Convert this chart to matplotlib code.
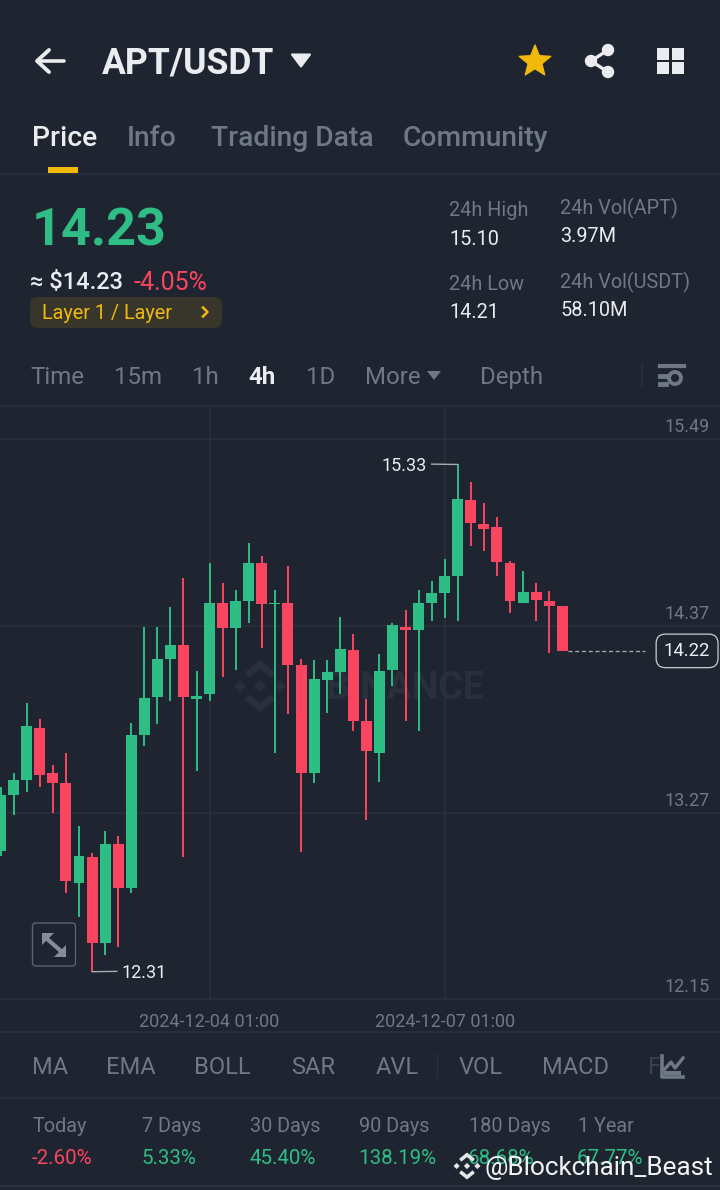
#!/usr/bin/env python
# -*- coding: utf-8 -*-
"""Binance style APT/USDT 4h candlestick screen."""

import numpy as np
import matplotlib
matplotlib.use("Agg")
import matplotlib.pyplot as plt
from matplotlib.patches import FancyBboxPatch, Polygon, Circle, Rectangle
from matplotlib.transforms import ScaledTranslation

plt.rcParams['font.family'] = ['Roboto', 'DejaVu Sans']

# candles, 4h, values
opens = [13.031, 13.360, 13.451, 13.761, 13.491, 13.432, 12.840, 12.991, 12.479, 13.070, 12.809,
         13.721, 13.943, 14.174, 14.253, 13.936, 13.963, 14.503, 14.354, 14.515, 14.745, 14.497,
         14.503, 14.134, 13.493, 14.045, 14.096, 14.223, 13.803, 13.614, 14.104, 14.364, 14.344,
         14.505, 14.567, 14.668, 15.116, 14.977, 14.956, 14.745, 14.505, 14.573, 14.515, 14.485]
highs = [13.412, 13.491, 13.912, 13.813, 13.543, 13.610, 13.180, 13.019, 13.150, 13.120, 13.793,
         14.364, 14.364, 14.483, 14.656, 14.102, 14.745, 14.626, 14.582, 14.864, 14.787, 14.582,
         14.725, 14.172, 14.164, 14.164, 14.424, 14.323, 13.932, 14.202, 14.384, 14.463, 14.584,
         14.634, 14.765, 15.330, 15.227, 15.098, 15.015, 14.755, 14.696, 14.624, 14.575, 14.485]
lows = [12.999, 13.241, 13.382, 13.412, 13.253, 12.781, 12.638, 12.310, 12.410, 12.459, 12.781,
        13.654, 13.783, 13.924, 12.991, 13.503, 13.924, 14.066, 14.106, 14.388, 14.235, 13.614,
        13.842, 13.021, 13.432, 13.852, 13.964, 13.743, 13.211, 13.442, 14.013, 13.803, 13.743,
        14.396, 14.416, 14.396, 14.844, 14.817, 14.666, 14.446, 14.505, 14.396, 14.206, 14.220]
closes = [13.362, 13.451, 13.773, 13.481, 13.432, 12.850, 12.999, 12.479, 13.070, 12.809, 13.721,
          13.942, 14.172, 14.253, 13.943, 13.951, 14.503, 14.354, 14.515, 14.745, 14.497, 14.507,
          14.134, 13.493, 14.053, 14.092, 14.233, 13.803, 13.622, 14.102, 14.374, 14.344, 14.505,
          14.565, 14.666, 15.126, 14.979, 14.948, 14.747, 14.515, 14.573, 14.525, 14.485, 14.220]

# gridlines are evenly spaced, the printed labels are rounded
price_ticks = [15.480, 14.370, 13.257, 12.147]
price_labels = ["15.49", "14.37", "13.27", "12.15"]
date_ticks = [16, 34]
date_labels = ["2024-12-04 01:00", "2024-12-07 01:00"]
last_price = 14.22

tabs = ["Price", "Info", "Trading Data", "Community"]
intervals = ["Time", "15m", "1h", "4h", "1D", "More", "Depth"]
indicators = ["MA", "EMA", "BOLL", "SAR", "AVL", "VOL", "MACD"]
periods = ["Today", "7 Days", "30 Days", "90 Days", "180 Days", "1 Year"]
period_changes = ["-2.60%", "5.33%", "45.40%", "138.19%", "68.68%", "67.77%"]

BG = "#1E2530"
GRID = "#2A313C"
GREEN = "#2EBD85"
RED = "#F9455F"
GREY = "#6F7885"
WHITE = "#EAECEF"
YELLOW = "#F0B90B"
FAINT = "#2A303B"

fig = plt.figure(figsize=(7.2, 11.9), dpi=100, facecolor=BG)

# chart area, price maps to screen by ylim
ax = fig.add_axes([0, 1 - 1032 / 1190, 1, 626 / 1190], facecolor=BG)
ax.set_xlim(-0.05, 55.08)
ax.set_ylim(11.951, 15.678)
for side in ["left", "right"]:
    ax.spines[side].set_visible(False)
for side in ["top", "bottom"]:
    ax.spines[side].set_color(GRID)
    ax.spines[side].set_linewidth(1.2)

ax.set_yticks(price_ticks)
ax.set_yticklabels(price_labels)
ax.yaxis.tick_right()
ax.tick_params(axis='y', length=0, pad=-40, labelsize=13, labelcolor=GREY)
ax.grid(axis='y', color=GRID, linewidth=1.1)
ax.set_axisbelow(True)
lift = ScaledTranslation(0, 3 / 100, fig.dpi_scale_trans)
for lab in ax.get_yticklabels():
    lab.set_verticalalignment('bottom')
    lab.set_transform(lab.get_transform() + lift)

ax.set_xticks(date_ticks)
ax.set_xticklabels(date_labels)
ax.tick_params(axis='x', length=0, pad=-14, labelsize=13, labelcolor=GREY)
ax.vlines(date_ticks, price_ticks[-1], ax.get_ylim()[1], color=GRID, linewidth=1.1, zorder=1)

xs = np.arange(len(opens))
o = np.array(opens)
h = np.array(highs)
l = np.array(lows)
c = np.array(closes)
colors = [GREEN if b >= a else RED for a, b in zip(o, c)]
ax.vlines(xs, l, h, color=colors, linewidth=1.4, zorder=3)
ax.bar(xs, np.abs(c - o), bottom=np.minimum(o, c), width=0.84, color=colors, zorder=4)

# high / low callouts
hi = int(np.argmax(h))
lo = int(np.argmin(l))
ax.annotate(f"{h[hi]:.2f}", (hi, h[hi]), xytext=(-22, -1), textcoords='offset points',
            ha='right', va='center', color=WHITE, fontsize=13, zorder=5,
            arrowprops=dict(arrowstyle='-', color="#A8ADB5", lw=1, shrinkA=1, shrinkB=0,
                            relpos=(1, 0.6)))
ax.annotate(f"{l[lo]:.2f}", (lo, l[lo]), xytext=(21, -1), textcoords='offset points',
            ha='left', va='center', color=WHITE, fontsize=13, zorder=5,
            arrowprops=dict(arrowstyle='-', color="#A8ADB5", lw=1, shrinkA=1, shrinkB=0,
                            relpos=(0, 0.6)))

# last price line and badge
ax.hlines(last_price, xs[-1] + 0.45, 49.3, color="#A8ADB5", linewidth=0.9,
          linestyle=(0, (3.2, 2.2)), zorder=3)
ax.annotate(f"{last_price:.2f}", (52.56, last_price), ha='center', va='center', color=WHITE,
            fontsize=13.3, zorder=6,
            bbox=dict(boxstyle="round,pad=0.42,rounding_size=0.5", fc=BG, ec="#C9CDD3", lw=0.9))

# faint watermark behind the candles
ax.text(0.5625, 0.549, "BINANCE", transform=ax.transAxes, color=FAINT, fontsize=27,
        fontweight='bold', va='center', ha='center', zorder=2)
wm = ax.inset_axes([0, 0, 1, 1], facecolor='none', zorder=2)
wm.set_xlim(0, 720)
wm.set_ylim(1032, 406)
wm.axis('off')

# everything around the chart, in screen pixels
ui = fig.add_axes([0, 0, 1, 1], facecolor='none', zorder=5)
ui.set_xlim(0, 720)
ui.set_ylim(1190, 0)
ui.axis('off')


def label(x, y, s, size, color=GREY, weight='normal', **kw):
    ui.text(x, y + 1.5, s, fontsize=size, color=color, fontweight=weight, va='center', ha='left', **kw)


def binance_logo(target, cx, cy, r, color, zorder=6):
    # centre and side diamonds
    for dx, dy in [(0, 0), (-r * 0.8, 0), (r * 0.8, 0)]:
        s = r * 0.24
        target.add_patch(Polygon([(cx + dx - s, cy + dy), (cx + dx, cy + dy - s),
                                  (cx + dx + s, cy + dy), (cx + dx, cy + dy + s)],
                                 color=color, lw=0, zorder=zorder))
    # chevrons top and bottom
    for sgn in [-1, 1]:
        pts = np.array([(-0.52, 0.44), (0, 0.86), (0.52, 0.44)]) * r
        target.plot(cx + pts[:, 0], cy + sgn * pts[:, 1], color=color, lw=r * 0.2,
                    solid_joinstyle='miter', solid_capstyle='butt', zorder=zorder)


binance_logo(wm, 260, 686, 25, FAINT, zorder=2)

# header
ui.plot([38, 64], [61, 61], color=WHITE, lw=2.6, solid_capstyle='round')
ui.plot([49, 37, 49], [50, 61, 72], color=WHITE, lw=2.8, solid_capstyle='round')
label(102, 62, "APT/USDT", 25.6, WHITE, 'bold')
ui.add_patch(Polygon([(292, 54.5), (310, 54.5), (301, 66.5)], color=WHITE, lw=1.5, joinstyle='round'))

angles = np.deg2rad(np.arange(0, 360, 36) - 90)
radii = np.where(np.arange(10) % 2 == 0, 16.5, 7.2)
ui.add_patch(Polygon(np.c_[535 + radii * np.cos(angles), 61.5 + radii * np.sin(angles)],
                     color=YELLOW, lw=1, joinstyle='round'))

ui.plot([608, 591, 608], [50, 61, 72], color=WHITE, lw=2.4)
for px, py, pr in [(608, 50, 6.2), (591, 61, 6.2), (608, 72, 6.2)]:
    ui.add_patch(Circle((px, py), pr, color=WHITE, lw=0))

for gx, gy in [(657, 48), (672, 48), (657, 62), (672, 62)]:
    ui.add_patch(Rectangle((gx, gy), 11.5, 11.5, color=WHITE, lw=0))

# tabs
for name, x, col in zip(tabs, [32, 127, 211, 403], [WHITE, GREY, GREY, GREY]):
    label(x, 137, name, 20.3, col, 'medium')
ui.add_patch(Rectangle((48, 167), 30, 5.5, color=YELLOW, lw=0))
ui.plot([0, 720], [173.5, 173.5], color=GRID, lw=1.2)

# price summary
label(32, 230, "14.23", 37.5, GREEN, 'bold')
label(30, 281, "≈ $14.23", 17, WHITE, 'medium')
label(133, 281, "-4.05%", 18, RED)
ui.add_patch(FancyBboxPatch((30, 297), 192, 31, boxstyle="round,pad=0,rounding_size=8",
                            fc="#38352B", ec='none'))
label(42, 312, "Layer 1 / Layer", 14.3, YELLOW)
ui.plot([203, 207.5, 203], [307.5, 312, 316.5], color=YELLOW, lw=1.8)

label(449, 209, "24h High", 14.3)
label(449, 238, "15.10", 14.3, WHITE)
label(449, 283, "24h Low", 14.3)
label(449, 311, "14.21", 14.3, WHITE)
label(560, 207, "24h Vol(APT)", 14.3)
label(560, 235, "3.97M", 14.3, WHITE)
label(560, 281, "24h Vol(USDT)", 14.3)
label(560, 309, "58.10M", 14.3, WHITE)

# interval row
for name, x in zip(intervals, [30, 114, 192, 248, 306, 365, 480]):
    if name == "4h":
        label(x, 376, name, 17.3, WHITE, 'bold')
    else:
        label(x, 376, name, 17.3)
ui.add_patch(Polygon([(427, 371), (441, 371), (434, 380)], color=GREY, lw=0))
ui.plot([642, 642], [364, 386], color=GRID, lw=1.2)
ui.plot([660, 684], [366, 366], color=GREY, lw=3)
ui.plot([660, 666], [376, 376], color=GREY, lw=3.5)
ui.plot([660, 666], [384, 384], color=GREY, lw=3.5)
ui.add_patch(Circle((675, 378), 6, fc='none', ec=GREY, lw=2.8))

# expand button
ui.add_patch(FancyBboxPatch((32.5, 923), 43, 43, boxstyle="round,pad=0,rounding_size=3",
                            fc=BG, ec="#5A6270", lw=1))
ui.plot([46, 62], [938, 952], color="#858C98", lw=3)
ui.add_patch(Polygon([(42, 933), (54, 933), (42, 945)], color="#858C98", lw=0))
ui.add_patch(Polygon([(66, 957), (54, 957), (66, 945)], color="#858C98", lw=0))

# indicator row
for name, x in zip(indicators, [32, 106, 194, 291, 376, 459, 542]):
    label(x, 1066, name, 17)
label(648, 1066, "F", 17, "#3A414C")
ui.plot([437, 437], [1053, 1078], color=GRID, lw=1)
ui.plot([662, 662, 683], [1056, 1077, 1077], color=GREY, lw=2.6)
ui.plot([664, 671, 675, 683], [1070, 1062, 1068, 1058], color=GREY, lw=2.4)
ui.add_patch(Rectangle((664, 1071), 17, 4, color=GREY, lw=0))

ui.plot([0, 720], [1098, 1098], color=GRID, lw=1.2)
ui.plot([0, 720], [1186, 1186], color=GRID, lw=1.5)

# period performance
for name, val, x in zip(periods, period_changes, [33, 142, 250, 359, 469, 578]):
    label(x, 1125, name, 14.3)
    label(x - 1, 1157, val, 14.8, RED if val.startswith("-") else GREEN)

# reposter tag
binance_logo(ui, 467, 1166, 13, "#E6E6E6", zorder=7)
ui.text(484, 1168, "@Blockchain_Beast", fontsize=18.8, color="#F2F2F2", va='center', ha='left', zorder=8)

fig.savefig("out.png", dpi=100, facecolor=BG)
